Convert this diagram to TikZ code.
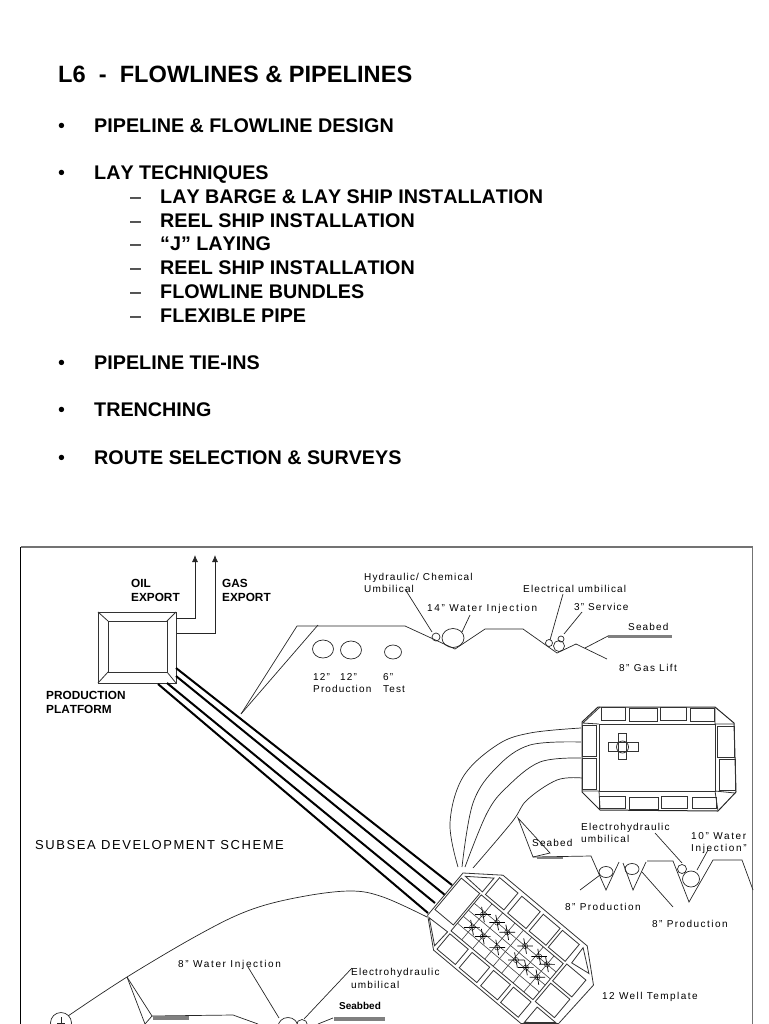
\documentclass[tikz,border=0pt]{standalone}
\usepackage{fontspec}
\setmainfont[Kerning=Off]{Liberation Sans}
\newfontfamily\spaced[LetterSpace=11.5]{Liberation Sans}
\newfontfamily\midsp[LetterSpace=14.5]{Liberation Sans}
\newfontfamily\widesp[LetterSpace=16.5]{Liberation Sans}
\newfontfamily\capsp[LetterSpace=12.2]{Liberation Sans}
\usetikzlibrary{arrows.meta}
\definecolor{sea}{gray}{0.5}
\tikzset{
  x=1pt,y=-1pt,
  head/.style={font=\bfseries\fontsize{23.6}{26}\selectfont,anchor=base west,inner sep=0},
  item/.style={font=\bfseries\fontsize{19.75}{24}\selectfont,anchor=base west,inner sep=0},
  mark item/.style={font=\fontsize{19.75}{24}\selectfont,anchor=base west,inner sep=0},
  lab/.style={font=\spaced\fontsize{10}{12}\selectfont,anchor=base west,inner sep=0},
  mlab/.style={font=\midsp\fontsize{10}{12}\selectfont,anchor=base west,inner sep=0},
  wlab/.style={font=\widesp\fontsize{10}{12}\selectfont,anchor=base west,inner sep=0},
  blab/.style={font=\bfseries\fontsize{11.8}{14}\selectfont,anchor=base west,inner sep=0},
  ln/.style={draw=black!85,line width=0.8pt},
  thin ln/.style={draw=black!85,line width=0.7pt},
  pipe/.style={draw=black,line width=2pt},
  seabar/.style={fill=sea,draw=none},
  box/.style={draw=black!80,line width=0.8pt},
  gridln/.style={draw=black!75,line width=0.6pt},
}
\begin{document}
\begin{tikzpicture}
\useasboundingbox (0,0) rectangle (768,1024);
\clip (0,0) rectangle (768,1024);
% slide text
\node[head] (title) at (58,83) {L6\ \ -\ \ FLOWLINES \& PIPELINES};
\node[mark item] (b1) at (58,133) {•}; \node[item] (t1) at (94,133) {PIPELINE \& FLOWLINE DESIGN};
\node[mark item] (b2) at (58,180) {•}; \node[item] (t2) at (94,180) {LAY TECHNIQUES};
\node[mark item] (d1) at (130,204) {–}; \node[item] (s1) at (160,204) {LAY BARGE \& LAY SHIP INSTALLATION};
\node[mark item] (d2) at (130,228) {–}; \node[item] (s2) at (160,228) {REEL SHIP INSTALLATION};
\node[mark item] (d3) at (130,251) {–}; \node[item] (s3) at (160,251) {“J” LAYING};
\node[mark item] (d4) at (130,274) {–}; \node[item] (s4) at (160,274) {REEL SHIP INSTALLATION};
\node[mark item] (d5) at (130,298) {–}; \node[item] (s5) at (160,298) {FLOWLINE BUNDLES};
\node[mark item] (d6) at (130,322) {–}; \node[item] (s6) at (160,322) {FLEXIBLE PIPE};
\node[mark item] (b3) at (58,369) {•}; \node[item] (t3) at (94,369) {PIPELINE TIE-INS};
\node[mark item] (b4) at (58,416) {•}; \node[item] (t4) at (94,416) {TRENCHING};
\node[mark item] (b5) at (58,464) {•}; \node[item] (t5) at (94,464) {ROUTE SELECTION \& SURVEYS};
% frame
\draw[draw=black!55,line width=1.3pt] (20.5,547) -- (752.5,547) -- (752.5,1030);
\draw[draw=black,line width=1.2pt] (20.5,547) -- (20.5,1030);
% platform
\draw[box] (98,612) rectangle (176,683);
\draw[box] (108,621) rectangle (167,672);
\draw[box] (98,612) -- (108,621) (176,612) -- (167,621) (98,683) -- (108,672) (176,683) -- (167,672);
\coordinate (oilS) at (176,618); \coordinate (oilE) at (195,555);
\coordinate (gasS) at (177,633); \coordinate (gasE) at (215,555);
\draw[ln,-{Latex[length=7pt,width=6pt]}] (oilS) -- (195,618) -- (oilE);
\draw[ln,-{Latex[length=7pt,width=6pt]}] (gasS) -- (215,633) -- (gasE);
\node[blab] (oil1) at (131,587) {OIL}; \node[blab] (oil2) at (131,601) {EXPORT};
\node[blab] (gas1) at (222,587) {GAS}; \node[blab] (gas2) at (222,601) {EXPORT};
\node[blab] (pp1) at (46,699) {PRODUCTION}; \node[blab] (pp2) at (46,713) {PLATFORM};
% pipelines
\draw[pipe] (176,668) -- (452,885);
\draw[pipe] (176,676) -- (445,895);
\draw[pipe] (167,683) -- (435,903);
\draw[pipe] (158,684) -- (428,913);
% top section
\draw[thin ln] (241,714) -- (297,626) -- (405,626) -- (455,649) -- (485,629) -- (523,629) -- (557,653) -- (576,644) -- (607,659);
\draw[thin ln] (241,714) -- (318,625);
\draw[thin ln] (585,648) -- (608,636);
\fill[seabar] (608,634.5) rectangle (672,637.5);
\draw[thin ln] (323,649) ellipse (10.5 and 9);
\draw[thin ln] (351,650) ellipse (10.5 and 9);
\draw[thin ln] (393,652) ellipse (8.5 and 7);
\draw[thin ln] (436,637) circle (4);
\draw[thin ln] (453,638) ellipse (11 and 9.5);
\draw[thin ln] (549,643) circle (3.5);
\draw[thin ln] (559,646) circle (5.5);
\draw[thin ln] (561,639) circle (3);
\draw[thin ln] (405,589) -- (432,632);
\draw[thin ln] (470,615) -- (462,632);
\draw[thin ln] (563,594) -- (550,640);
\draw[thin ln] (582,612) -- (564,634);
\node[lab] (hc1) at (364,580) {Hydraulic/ Chemical};
\node[lab] (hc2) at (364,592) {Umbilical};
\node[wlab] (wi14) at (427,611) {14” Water Injection};
\node[lab] (eu) at (523,592) {Electrical umbilical};
\node[lab] (sv) at (574,610) {3” Service};
\node[lab] (sb1) at (628,630) {Seabed};
\node[mlab] (gl) at (619,671) {8” Gas Lift};
\node[lab] (p1a) at (313,680) {12”};
\node[lab] (p1b) at (340,680) {12”};
\node[lab] (p1c) at (383,680) {6”};
\node[lab] (p2a) at (313,692) {Production};
\node[lab] (p2b) at (383,692) {Test};
% manifold
\draw[ln,line width=1pt] (598,707) -- (715,707) -- (734,723) -- (736,792) -- (718,811) -- (600,810) -- (582,792) -- (582,722) -- cycle;
\draw[box] (599,724) rectangle (715,791);
\draw[box] (600,707) -- (583,723) (582,723) -- (599,724) (715,707) -- (715,724) -- (734,724) (582,791) -- (599,791) -- (600,808) (715,791) -- (735,793) (715,791) -- (718,811);
\foreach \a/\b/\c/\d in {601/707/625/720,629/708/657/721,660/707/686/720,690/708/714/721,
  599/796/625/808,629/797/658/809,661/796/687/808,692/797/716/808,
  582/725/596/756,582/758/596/789,717/726/734/757,719/759/735/790}
  \draw[box] (\a,\b) rectangle (\c,\d);
\draw[box] (618.5,733) rectangle (626.5,759);
\draw[box] (608,742) rectangle (638,751);
\draw[box] (622.5,747) circle (6);
% hoses
\draw[thin ln] plot[smooth,tension=0.6] coordinates {(458,867) (450,823) (463,777) (497,745) (530,733) (581,728)};
\draw[thin ln] plot[smooth,tension=0.6] coordinates {(462,867) (473,803) (497,767) (530,745) (581,742)};
\draw[thin ln] plot[smooth,tension=0.6] coordinates {(465,867) (487,813) (507,787) (540,762) (581,758)};
\draw[thin ln] plot[smooth,tension=0.6] coordinates {(473,868) (512,822) (527,800) (557,780) (582,778)};
% right lower section
\draw[thin ln] (518,818) -- (533,857) -- (550,853) -- cycle;
\draw[thin ln] (533,857) -- (591,856) -- (606,890) -- (619,862) (623,863) -- (633,890) -- (646,862) (647,861) -- (673,861) -- (689,902) -- (713,860) -- (742,860) -- (753,890);
\fill[seabar] (537,856.5) rectangle (563,859);
\draw[thin ln] (606,872) ellipse (7 and 5.5);
\draw[thin ln] (632,869) ellipse (7 and 5.5);
\draw[thin ln] (682,869) circle (4.5);
\draw[thin ln] (691,879) ellipse (8.5 and 8);
\draw[thin ln] (580,890) -- (600,875);
\draw[thin ln] (642,872) -- (673,907);
\draw[thin ln] (655,833) -- (682,863);
\draw[thin ln] (697,870) -- (708,850);
\node[lab] (sb2) at (532,846) {Seabed};
\node[lab] (eh1) at (581,830) {Electrohydraulic};
\node[lab] (eh2) at (581,842) {umbilical};
\node[wlab] (w1) at (691,839) {10” Water};
\node[wlab] (w2) at (691,851) {Injection”};
\node[mlab] (p8a) at (565,910) {8” Production};
\node[mlab] (p8b) at (652,927) {8” Production};
\node[mlab] (wt) at (602,999) {12 Well Template};
% template
\begin{scope}[shift={(463,873)},rotate=-40]
  \draw[box] (0,0) -- (32,-24) -- (142,-24) -- (172,2) -- (170,54) -- (141,78) -- (27,78) -- (0,55) -- cycle;
  \draw[box] (28,5) rectangle (135,52);
  \foreach \a/\c in {31/55,60/84,88/110,113/135}
    \draw[box] (\a,-20) rectangle (\c,2);
  \foreach \a/\c in {29/53,58/81,86/108,112/135}
    \draw[box] (\a,55) rectangle (\c,75);
  \draw[box] (2,5) rectangle (26,46);
  \draw[box] (138,3) rectangle (163,25);
  \draw[box] (138,28) rectangle (163,52);
  \draw[box] (4,1) -- (27,-16) -- (27,2) -- cycle;
  \draw[box] (3,56) -- (25,74) -- (26,55) -- cycle;
  \draw[box] (140,-20) -- (161,-4) -- (141,-1) -- cycle;
  \draw[box] (143,55) -- (167,55) -- (143,75) -- cycle;
  \foreach \b in {16,25,33,42} \draw[gridln] (28,\b) -- (135,\b);
  \foreach \a in {42,56,72,83,94,109,123} \draw[gridln] (\a,5) -- (\a,52);
  \foreach \a/\b in {42/19,58/16,72/17,42/36,56/36,74/35,94.5/16,112/15,123/16,96.5/32.6,109/32,124/32} {
    \draw[thin ln,draw=black] (\a-6,\b-5) -- (\a+6,\b+5) (\a-6,\b+5) -- (\a+6,\b-5);
    \draw[thin ln,line width=0.5pt] (\a,\b) circle (2.6);
  }
\end{scope}
% bottom left section
\draw[thin ln] (61,1023) circle (10.5);
\draw[thin ln] (61,1017) -- (61,1030) (57,1023) -- (65,1023);
\draw[thin ln] plot[smooth,tension=0.6] coordinates {(68,1016) (127,977) (200,934) (250,910) (300,897) (350,891) (383,897) (427,917)};
\draw[thin ln] (127,977) -- (152,1016) -- (233,1015) -- (258,1024);
\draw[thin ln] (127,977) -- (145,1024);
\draw[thin ln] (145,1024) -- (152,1016);
\fill[seabar] (153,1016) rectangle (189,1020);
\draw[thin ln] (288,1027) ellipse (10 and 9.5);
\draw[thin ln] (302,1025) circle (5.5);
\draw[thin ln] (248,967) -- (279,1018);
\draw[thin ln] (352,968) -- (304,1019);
\draw[thin ln] (318,1024) -- (333,1018);
\fill[seabar] (334,1017) rectangle (385,1020.5);
\node[wlab] (wi8) at (178,967) {8” Water Injection};
\node[lab] (eh3) at (351,975) {Electrohydraulic};
\node[lab] (eh4) at (351,988) {umbilical};
\node[font=\bfseries\fontsize{10}{12}\selectfont,anchor=base west,inner sep=0] (sb3) at (339,1009) {Seabbed};
\node[font=\capsp\fontsize{13}{15}\selectfont,anchor=base west,inner sep=0] (scheme) at (35,849) {SUBSEA DEVELOPMENT SCHEME};
\end{tikzpicture}
\end{document}
